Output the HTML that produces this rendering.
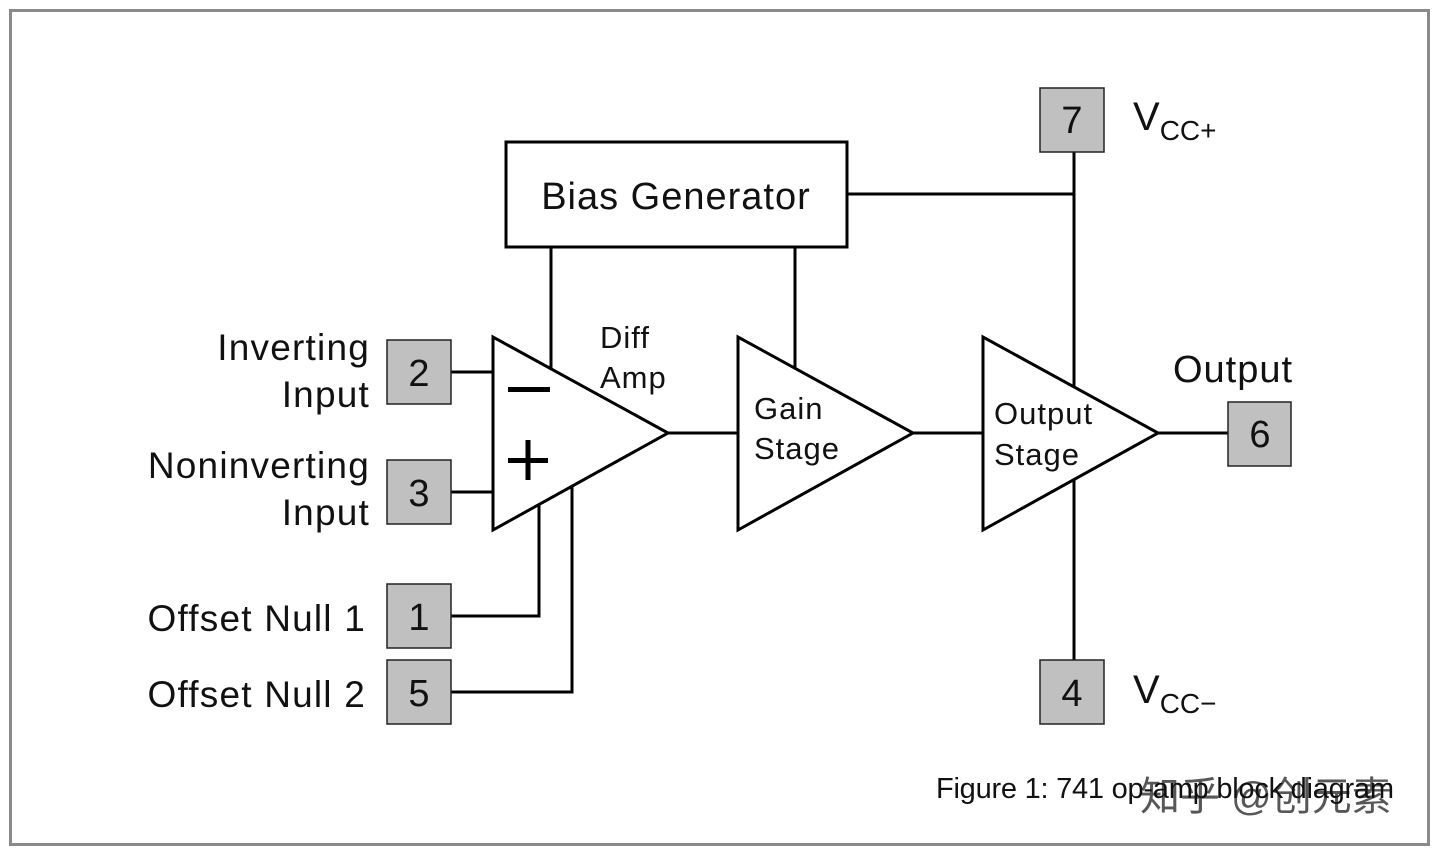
<!DOCTYPE html>
<html><head><meta charset="utf-8"><style>
html,body{margin:0;padding:0;background:#fff;width:1440px;height:855px;overflow:hidden}
svg{display:block}
text{font-family:"Liberation Sans","Noto Sans CJK SC",sans-serif;fill:#111}
</style></head><body>
<svg width="1440" height="855" viewBox="0 0 1440 855">
<rect x="0" y="0" width="1440" height="855" fill="#fff"/>
<rect x="10.5" y="10.5" width="1418" height="834" fill="#fff" stroke="#8a8a8a" stroke-width="3"/>
<g stroke="#000" stroke-width="3" fill="none">
<rect x="506" y="142" width="341" height="105" fill="#fff"/>
<line x1="847" y1="194" x2="1074" y2="194"/>
<line x1="1074" y1="152" x2="1074" y2="388"/>
<line x1="1074" y1="480" x2="1074" y2="660"/>
<line x1="551" y1="247" x2="551" y2="369"/>
<line x1="795" y1="247" x2="795" y2="368"/>
<polygon points="493,337 493,530 668,433"/>
<polygon points="738,337 738,530 913,433"/>
<polygon points="983,337 983,530 1158,433"/>
<line x1="668" y1="433" x2="738" y2="433"/>
<line x1="913" y1="433" x2="983" y2="433"/>
<line x1="1158" y1="433" x2="1228" y2="433"/>
<line x1="451" y1="372" x2="493" y2="372"/>
<line x1="451" y1="492" x2="493" y2="492"/>
<polyline points="451,616 539,616 539,505"/>
<polyline points="451,692 572,692 572,487"/>
</g>
<g fill="#c0c0c0" stroke="#222" stroke-width="1.5">
<rect x="1040" y="88" width="64" height="64"/>
<rect x="1040" y="660" width="64" height="64"/>
<rect x="1228" y="402" width="63" height="64"/>
<rect x="387" y="340" width="64" height="64"/>
<rect x="387" y="460" width="64" height="64"/>
<rect x="387" y="584" width="64" height="64"/>
<rect x="387" y="660" width="64" height="64"/>
</g>
<g font-size="38" text-anchor="middle">
<text x="1072" y="133">7</text>
<text x="1072" y="706">4</text>
<text x="1260" y="447">6</text>
<text x="419" y="386">2</text>
<text x="419" y="506">3</text>
<text x="419" y="630">1</text>
<text x="419" y="706">5</text>
</g>
<text x="676" y="209" font-size="38" letter-spacing="1" text-anchor="middle">Bias Generator</text>
<text x="1133" y="130" font-size="40">V<tspan font-size="28" dy="10">CC+</tspan></text>
<text x="1133" y="703" font-size="40">V<tspan font-size="28" dy="10">CC−</tspan></text>
<g font-size="37" text-anchor="end" letter-spacing="1.2">
<text x="370" y="360">Inverting</text>
<text x="370" y="407">Input</text>
<text x="370" y="478">Noninverting</text>
<text x="370" y="525">Input</text>
<text x="366" y="631">Offset Null 1</text>
<text x="366" y="707">Offset Null 2</text>
</g>
<text x="1233" y="382" font-size="38" letter-spacing="1" text-anchor="middle">Output</text>
<g font-size="31" letter-spacing="1">
<text x="600" y="348">Diff</text>
<text x="600" y="388">Amp</text>
<text x="754" y="419">Gain</text>
<text x="754" y="459">Stage</text>
<text x="994" y="424">Output</text>
<text x="994" y="465">Stage</text>
</g>
<rect x="508" y="387" width="42" height="5" fill="#000"/>
<rect x="508" y="458" width="40" height="5" fill="#000"/>
<rect x="525.5" y="440" width="5" height="40" fill="#000"/>
<text x="936" y="798" font-size="29" fill="#222" textLength="458">Figure 1:  741 op-amp block diagram</text>
<text x="1140" y="810" font-size="40" fill="#bbb" opacity="0.7" font-family="Noto Sans CJK SC,sans-serif">知乎 @创元素</text>
</svg>
</body></html>
